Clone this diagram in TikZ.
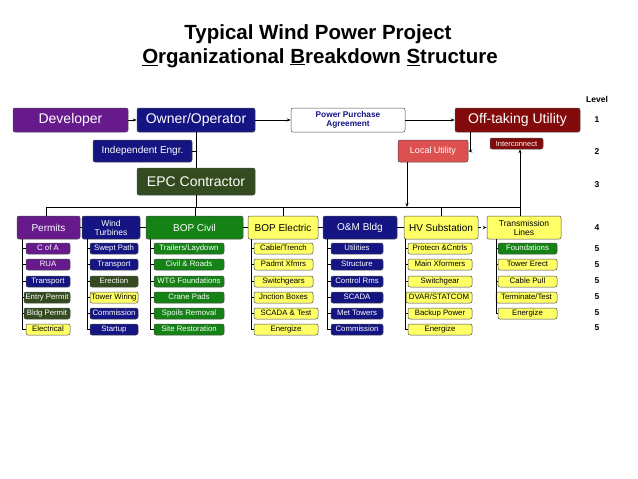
\documentclass[tikz,border=0pt]{standalone}
\usepackage{fontspec}
\setmainfont{Liberation Sans}
\usetikzlibrary{arrows.meta}
\definecolor{cpur}{RGB}{102,26,140}
\definecolor{cnav}{RGB}{20,20,130}
\definecolor{cdg}{RGB}{51,75,30}
\definecolor{cgr}{RGB}{20,130,20}
\definecolor{cyel}{RGB}{255,255,102}
\definecolor{cred}{RGB}{130,10,10}
\definecolor{clu}{RGB}{220,80,80}
\tikzset{
 bx/.style={draw=black!70,rounded corners=2pt,inner sep=0pt,align=center,line width=0.5pt},
 pur/.style={bx,fill=cpur,text=white},
 nav/.style={bx,fill=cnav,text=white},
 dg/.style={bx,fill=cdg,text=white},
 gr/.style={bx,fill=cgr,text=white},
 yel/.style={bx,fill=cyel,text=black},
 red/.style={bx,fill=cred,text=white},
 lu/.style={bx,fill=clu,text=white},
 wh/.style={bx,fill=white,text=cnav},
 ln/.style={line width=0.6pt},
 ar/.style={ln,-{Stealth[length=4pt,width=3pt]}},
 lvl/.style={font=\bfseries\fontsize{8.5}{9}\selectfont}
}
\newcommand{\bx}[7]{\node[#6,minimum width={(#4-#2)*1pt},minimum height={(#5-#3)*1pt}] (#1) at ({(#2+#4)/2},{(#3+#5)/2}) {#7};}
\begin{document}
\begin{tikzpicture}[x=1pt,y=-1pt]
\useasboundingbox (0,0) rectangle (638,479);
\node[font=\bfseries\fontsize{20.5}{22}\selectfont] (t1) at (318,34) {Typical Wind  Power Project};
\node[font=\bfseries\fontsize{20.5}{22}\selectfont] (t2) at (320,58) {\underline{O}rganizational \underline{B}reakdown \underline{S}tructure};
% level 1
\bx{dev}{13}{108}{128}{132}{pur,font=\fontsize{14}{15}\selectfont}{Developer}
\bx{own}{137}{108}{255}{132}{nav,font=\fontsize{14}{15}\selectfont}{Owner/Operator}
\bx{ppa}{291}{108}{405}{132}{wh,font=\bfseries\fontsize{8.3}{9}\selectfont}{Power Purchase\\Agreement}
\bx{off}{455}{108}{580}{132}{red,font=\fontsize{14}{15}\selectfont}{Off-taking Utility}
\bx{ie}{93}{140}{192}{162}{nav,font=\fontsize{10}{11}\selectfont}{Independent Engr.}
\bx{lu}{398}{140}{468}{162}{lu,font=\fontsize{9}{10}\selectfont}{Local Utility}
\bx{ic}{490}{138}{543}{149}{red,font=\fontsize{7.5}{8}\selectfont}{Interconnect}
\bx{epc}{137}{168}{255}{195}{dg,font=\fontsize{14}{15}\selectfont}{EPC Contractor}
\draw[ar] (dev) -- (own);
\draw[ar] (own) -- (ppa);
\draw[ar] (ppa) -- (off);
\coordinate (bL) at (46,207);
\coordinate (bR) at (520,207);
\draw[ln] (own.south) -- (epc.north);
\draw[ln] (ie.east) -- (ie.east -| own.south);
\draw[ln] (epc.south) -- (epc.south |- bL);
\draw[ln] (bL) -- (bR);
\draw[ar] (off.south -| 470,0) |- (lu.east);
\draw[ar] (lu.south -| 407,0) -- (407,207);
\draw[ar] (bR) -- (ic.south -| bR);
% level 4
\bx{per}{17}{216}{80}{239}{pur,font=\fontsize{10}{11}\selectfont}{Permits}
\bx{wt}{82}{216}{140}{239}{nav,font=\fontsize{8.5}{9}\selectfont}{Wind\\Turbines}
\bx{civ}{146}{216}{243}{239}{gr,font=\fontsize{10}{11}\selectfont}{BOP Civil}
\bx{ele}{248}{216}{318}{239}{yel,font=\fontsize{10}{11}\selectfont}{BOP Electric}
\bx{om}{323}{216}{397}{239}{nav,font=\fontsize{10}{11}\selectfont}{O\&M Bldg}
\bx{hv}{404}{216}{478}{239}{yel,font=\fontsize{10}{11}\selectfont}{HV Substation}
\bx{tl}{487}{216}{561}{239}{yel,font=\fontsize{8.5}{9}\selectfont}{Transmission\\Lines}
\foreach \n/\x in {per/46,civ/195,ele/283,hv/441,tl/520} \draw[ln] (\x,207) -- (\n.north -| \x,0);
\draw[ln] (per) -- (wt); \draw[ln] (wt) -- (civ); \draw[ln] (civ) -- (ele);
\draw[ln] (ele) -- (om); \draw[ln] (om) -- (hv);
\draw[ar,dashed] (hv) -- (tl);
% level 5
\newcommand{\kid}[8]{\bx{#1}{#2}{#4}{#3}{#4+11}{#6,text height=5.6pt,text depth=1.6pt,font=\fontsize{7.8}{8}\selectfont}{#7}
\draw[ln] (#8.south -| #5,0) |- (#1.west);}
\foreach \i/\y in {1/243,2/259,3/276,4/292,5/308,6/324} {\global\expandafter\edef\csname ry\i\endcsname{\y}}
\kid{p1}{26}{70}{\csname ry1\endcsname}{22}{pur}{C of A}{per}
\kid{p2}{26}{70}{\csname ry2\endcsname}{22}{pur}{RUA}{per}
\kid{p3}{26}{70}{\csname ry3\endcsname}{22}{nav}{Transport}{per}
\kid{p4}{24}{70}{\csname ry4\endcsname}{22}{dg}{Entry Permit}{per}
\kid{p5}{24}{70}{\csname ry5\endcsname}{22}{dg}{Bldg Permit}{per}
\kid{p6}{26}{70}{\csname ry6\endcsname}{22}{yel}{Electrical}{per}
\kid{w1}{90}{138}{\csname ry1\endcsname}{87}{nav}{Swept Path}{wt}
\kid{w2}{90}{138}{\csname ry2\endcsname}{87}{nav}{Transport}{wt}
\kid{w3}{90}{138}{\csname ry3\endcsname}{87}{dg}{Erection}{wt}
\kid{w4}{90}{138}{\csname ry4\endcsname}{87}{yel}{Tower Wiring}{wt}
\kid{w5}{90}{138}{\csname ry5\endcsname}{87}{nav}{Commission}{wt}
\kid{w6}{90}{138}{\csname ry6\endcsname}{87}{nav}{Startup}{wt}
\kid{c1}{154}{224}{\csname ry1\endcsname}{150}{gr}{Trailers/Laydown}{civ}
\kid{c2}{154}{224}{\csname ry2\endcsname}{150}{gr}{Civil \& Roads}{civ}
\kid{c3}{154}{224}{\csname ry3\endcsname}{150}{gr}{WTG Foundations}{civ}
\kid{c4}{154}{224}{\csname ry4\endcsname}{150}{gr}{Crane Pads}{civ}
\kid{c5}{154}{224}{\csname ry5\endcsname}{150}{gr}{Spoils Removal}{civ}
\kid{c6}{154}{224}{\csname ry6\endcsname}{150}{gr}{Site Restoration}{civ}
\kid{e1}{254}{313}{\csname ry1\endcsname}{251}{yel}{Cable/Trench}{ele}
\kid{e2}{254}{313}{\csname ry2\endcsname}{251}{yel}{Padmt Xfmrs}{ele}
\kid{e3}{254}{313}{\csname ry3\endcsname}{251}{yel}{Switchgears}{ele}
\kid{e4}{254}{313}{\csname ry4\endcsname}{251}{yel}{Jnction Boxes}{ele}
\kid{e5}{254}{318}{\csname ry5\endcsname}{251}{yel}{SCADA \& Test}{ele}
\kid{e6}{254}{318}{\csname ry6\endcsname}{251}{yel}{Energize}{ele}
\kid{o1}{331}{383}{\csname ry1\endcsname}{327}{nav}{Utilities}{om}
\kid{o2}{331}{383}{\csname ry2\endcsname}{327}{nav}{Structure}{om}
\kid{o3}{331}{383}{\csname ry3\endcsname}{327}{nav}{Control Rms}{om}
\kid{o4}{331}{383}{\csname ry4\endcsname}{327}{nav}{SCADA}{om}
\kid{o5}{331}{383}{\csname ry5\endcsname}{327}{nav}{Met Towers}{om}
\kid{o6}{331}{383}{\csname ry6\endcsname}{327}{nav}{Commission}{om}
\kid{h1}{408}{472}{\csname ry1\endcsname}{405}{yel}{Protecn \&Cntrls}{hv}
\kid{h2}{408}{472}{\csname ry2\endcsname}{405}{yel}{Main Xformers}{hv}
\kid{h3}{408}{472}{\csname ry3\endcsname}{405}{yel}{Switchgear}{hv}
\kid{h4}{406}{472}{\csname ry4\endcsname}{405}{yel}{DVAR/STATCOM}{hv}
\kid{h5}{408}{472}{\csname ry5\endcsname}{405}{yel}{Backup Power}{hv}
\kid{h6}{408}{472}{\csname ry6\endcsname}{405}{yel}{Energize}{hv}
\kid{r1}{498}{557}{\csname ry1\endcsname}{496}{gr}{Foundations}{tl}
\kid{r2}{498}{557}{\csname ry2\endcsname}{496}{yel}{Tower Erect}{tl}
\kid{r3}{498}{557}{\csname ry3\endcsname}{496}{yel}{Cable Pull}{tl}
\kid{r4}{496}{557}{\csname ry4\endcsname}{496}{yel}{Terminate/Test}{tl}
\kid{r5}{498}{557}{\csname ry5\endcsname}{496}{yel}{Energize}{tl}
% levels
\node[lvl] (lv) at (597,99) {Level};
\foreach \t/\y [count=\k] in {1/120,2/152,3/185,4/228,5/249,5/265,5/281,5/297,5/313,5/328} \node[lvl] (lv\k) at (597,\y) {\t};
\end{tikzpicture}
\end{document}
